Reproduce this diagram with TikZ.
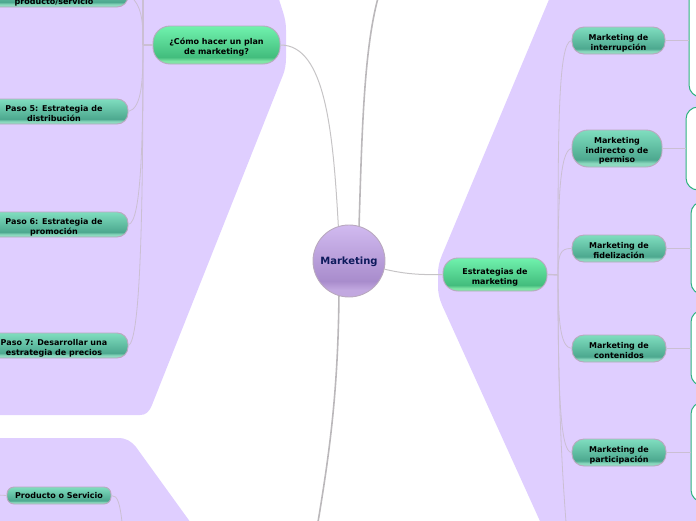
\documentclass[tikz,border=0pt]{standalone}
\usepackage{fontspec}
\setmainfont{DejaVu Sans}
\definecolor{areacol}{HTML}{DFCEFF}
\definecolor{edgecol}{HTML}{B9A9BF}
\definecolor{linecol}{HTML}{BBB8BB}
\definecolor{outercol}{HTML}{C6C4C6}
\definecolor{thincol}{HTML}{CBBFD3}
\definecolor{boxcol}{HTML}{2DB37F}
\definecolor{centertext}{HTML}{0D1A5C}
\pgfdeclareverticalshading{greenfill}{100bp}{rgb(0bp)=(0.50,0.90,0.65); rgb(29bp)=(0.50,0.90,0.65); rgb(34bp)=(0.26,0.74,0.49); rgb(75bp)=(0.44,0.95,0.68); rgb(100bp)=(0.44,0.95,0.68)}
\pgfdeclareverticalshading{tealfill}{100bp}{rgb(0bp)=(0.55,0.85,0.75); rgb(30bp)=(0.55,0.85,0.75); rgb(35bp)=(0.30,0.66,0.56); rgb(75bp)=(0.50,0.87,0.75); rgb(100bp)=(0.50,0.87,0.75)}
\pgfdeclareverticalshading{purplefill}{100bp}{rgb(0bp)=(0.76,0.66,0.88); rgb(30bp)=(0.76,0.66,0.88); rgb(36bp)=(0.66,0.55,0.80); rgb(75bp)=(0.82,0.73,0.94); rgb(100bp)=(0.82,0.73,0.94)}
\newcommand{\lowtext}[1]{\raisebox{-4.8pt}[8pt][8pt]{\begin{tabular}{@{}c@{}}#1\end{tabular}}}
\tikzset{
	mainnode/.style={circle, draw=edgecol, line width=0.9pt, shading=purplefill, minimum size=72pt, inner sep=0pt, font=\fontsize{10}{11}\selectfont\bfseries, text=centertext},
	topicnode/.style={draw=edgecol, line width=0.9pt, shading=greenfill, inner sep=0pt, font=\fontsize{8}{9.6}\selectfont\bfseries, text=black},
	subnode/.style={draw=edgecol, line width=0.9pt, shading=tealfill, inner sep=0pt, font=\fontsize{8}{9.6}\selectfont\bfseries, text=black},
	whitebox/.style={draw=boxcol, line width=1pt, fill=white, rounded corners=12pt, inner sep=0pt},
	mainline/.style={draw=linecol, line width=1.6pt},
	outerline/.style={draw=outercol, line width=1pt},
	thinline/.style={draw=thincol, line width=0.8pt},
	stemline/.style={draw=thincol, line width=1.4pt},
}
\begin{document}
\begin{tikzpicture}[x=1pt, y=-1pt]
		%%%%% START %%%%%
		\useasboundingbox (0, 0) rectangle (696, 520);
		
		\fill[areacol] (-10, -10) -- (276, -10) -- (283, 12) .. controls (285, 18) and (286, 24) .. (286, 30) -- (286, 58) .. controls (286, 64) and (285, 70) .. (283, 75) -- (152, 405) .. controls (149, 412) and (146, 415) .. (140, 415) -- (-10, 415) -- cycle;
		\fill[areacol] (-10, 438) -- (118, 438) .. controls (126, 438) and (131, 441) .. (136, 447) -- (196, 530) -- (-10, 530) -- cycle;
		\fill[areacol] (553, -10) -- (442, 255) .. controls (439, 262) and (438, 268) .. (438, 274) -- (438, 286) .. controls (438, 292) and (439, 298) .. (442, 305) -- (544, 530) -- (706, 530) -- (706, -10) -- cycle;
		
		% white boxes on the right
		\node[whitebox, minimum width=60pt, minimum height=140pt] (boxa) at (719, 27) {};
		\node[whitebox, minimum width=60pt, minimum height=83pt] (boxb) at (716, 148.5) {};
		\node[whitebox, minimum width=60pt, minimum height=93pt] (boxc) at (721, 248) {};
		\node[whitebox, minimum width=60pt, minimum height=76pt] (boxd) at (721, 348) {};
		\node[whitebox, minimum width=60pt, minimum height=100pt] (boxe) at (721, 452) {};
		
		% main nodes
		\node[mainnode] (marketing) at (349, 261) {\raisebox{-3.8pt}[8pt][8pt]{Marketing}};
		\node[topicnode, minimum width=127pt, minimum height=38pt, rounded corners=17pt] (plan) at (216.5, 45) {\lowtext{¿Cómo hacer un plan\\de marketing?}};
		\node[topicnode, minimum width=104pt, minimum height=33pt, rounded corners=15pt] (estrategias) at (495, 274.5) {\lowtext{Estrategias de\\marketing}};
		
		% left side
		\node[subnode, minimum width=148pt, minimum height=25pt, rounded corners=11pt] (paso4) at (54, -5.5) {\lowtext{\mbox{}\\producto/servicio}};
		\node[subnode, minimum width=148pt, minimum height=25pt, rounded corners=11pt] (paso5) at (54, 111.5) {\lowtext{Paso 5: Estrategia de\\distribución}};
		\node[subnode, minimum width=148pt, minimum height=25pt, rounded corners=11pt] (paso6) at (54, 224.5) {\lowtext{Paso 6: Estrategia de\\promoción}};
		\node[subnode, minimum width=148pt, minimum height=25pt, rounded corners=11pt] (paso7) at (54, 345.5) {\lowtext{Paso 7: Desarrollar una\\estrategia de precios}};
		\node[subnode, minimum width=104pt, minimum height=17pt, rounded corners=7pt] (producto) at (59, 495.5) {Producto o Servicio};
		
		% right side
		\node[subnode, minimum width=93pt, minimum height=27pt, rounded corners=12pt] (interrupcion) at (618.5, 40.5) {\lowtext{Marketing de\\interrupción}};
		\node[subnode, minimum width=90pt, minimum height=37pt, rounded corners=16pt] (permiso) at (617, 148.5) {\lowtext{Marketing\\indirecto o de\\permiso}};
		\node[subnode, minimum width=94pt, minimum height=27pt, rounded corners=12pt] (fidelizacion) at (619, 248.5) {\lowtext{Marketing de\\fidelización}};
		\node[subnode, minimum width=94pt, minimum height=27pt, rounded corners=12pt] (contenidos) at (619, 348.5) {\lowtext{Marketing de\\contenidos}};
		\node[subnode, minimum width=94pt, minimum height=27pt, rounded corners=12pt] (participacion) at (619, 452.5) {\lowtext{Marketing de\\participación}};
		
		% free ends and branching points
		\coordinate (topend) at (378, -2);
		\coordinate (bottomend) at (318, 522);
		\coordinate (lefttrunk) at (143, 45);
		\coordinate (lefttop) at (143, -2);
		\coordinate (righttrunk) at (558, 275);
		\coordinate (rightend) at (566, 522);
		\coordinate (productoleft) at (-2, 495);
		\coordinate (productoend) at (122, 522);
		
		% connectors from the centre
		\draw[outerline] (marketing.107) .. controls (333, 130) and (325, 45) .. (plan.east);
		\draw[mainline] (marketing.74) .. controls (362, 130) and (364, 50) .. (topend);
		\draw[mainline] (marketing.254) .. controls (338, 390) and (330, 450) .. (bottomend);
		\draw[outerline] (marketing.-13) .. controls (405, 274) and (420, 275) .. (estrategias.west);
		
		% connectors on the left
		\draw[stemline] (plan.west) -- (lefttrunk);
		\draw[stemline] (lefttop) -- (lefttrunk);
		\draw[thinline] (lefttrunk) .. controls (143, 20) and (142, 5) .. (paso4.east);
		\draw[thinline] (lefttrunk) .. controls (143, 80) and (142, 108) .. (paso5.east);
		\draw[thinline] (lefttrunk) .. controls (143, 130) and (142, 222) .. (paso6.east);
		\draw[thinline] (lefttrunk) .. controls (143, 200) and (141, 340) .. (paso7.east);
		\draw[thinline] (productoleft) -- (producto.west);
		\draw[thinline] (producto.east) .. controls (118, 495) and (120, 505) .. (productoend);
		
		% connectors on the right
		\draw[stemline] (estrategias.east) -- (righttrunk);
		\draw[thinline] (righttrunk) .. controls (558, 130) and (558, 42) .. (interrupcion.west);
		\draw[thinline] (righttrunk) .. controls (558, 210) and (559, 150) .. (permiso.west);
		\draw[thinline] (righttrunk) .. controls (558, 255) and (560, 248) .. (fidelizacion.west);
		\draw[thinline] (righttrunk) .. controls (558, 325) and (561, 347) .. (contenidos.west);
		\draw[thinline] (righttrunk) .. controls (558, 390) and (560, 452) .. (participacion.west);
		\draw[thinline] (righttrunk) .. controls (558, 400) and (562, 470) .. (rightend);
		\draw[thinline] (interrupcion.east) -- (interrupcion.east -| boxa.west);
		\draw[thinline] (permiso.east) -- (permiso.east -| boxb.west);
		\draw[thinline] (fidelizacion.east) -- (fidelizacion.east -| boxc.west);
		\draw[thinline] (contenidos.east) -- (contenidos.east -| boxd.west);
		\draw[thinline] (participacion.east) -- (participacion.east -| boxe.west);
		
		%%%%% END %%%%%
	\end{tikzpicture}
\end{document}
